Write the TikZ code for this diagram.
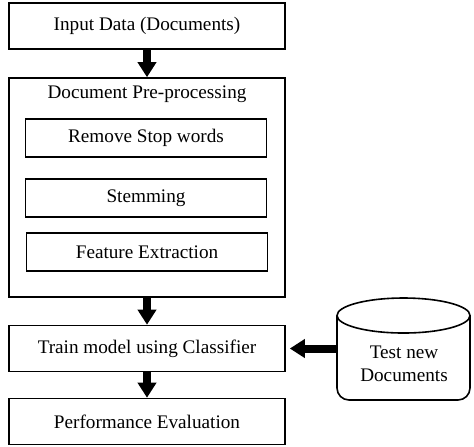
\documentclass[tikz,border=0pt]{standalone}
\usepackage{fontspec}
\setmainfont{Liberation Serif}
\usetikzlibrary{arrows.meta}

\begin{document}
\begin{tikzpicture}[x=0.5pt,y=-0.5pt,
  box/.style={draw,line width=0.8pt,minimum width=138pt,minimum height=23pt,inner sep=0pt},
  subbox/.style={draw,line width=0.8pt,minimum width=120.5pt,minimum height=19pt,inner sep=0pt},
  blk/.style={line width=4pt,-{Triangle[width=9pt,length=7.5pt]}},
  font=\fontsize{9.6}{11.5}\selectfont]
\useasboundingbox (0,0) rectangle (474,446);
\node[box] (input) at (147,26) {Input Data (Documents)};
\node[box,minimum height=109.5pt] (prep) at (147,187.5) {};
\node (preptitle) at (147,94) {Document Pre-processing};
\node[subbox] (stop) at (146,138) {Remove Stop words};
\node[subbox] (stem) at (146,198) {Stemming};
\node[subbox] (feat) at (147,252) {Feature Extraction};
\node[box] (train) at (147,348.5) {Train model using Classifier};
\node[box] (perf) at (147,421.5) {Performance Evaluation};
% test documents store
\draw[line width=0.8pt] (403.5,315.5) ellipse [x radius=66.5,y radius=17.5];
\draw[line width=0.8pt,rounded corners=6pt] (337,315.5) -- (337,400) -- (470,400) -- (470,315.5);
\node[align=center,inner sep=0pt] (test) at (404,364) {Test new\\Documents};
\coordinate (testw) at (337,348.5);
\draw[blk] (input) -- (prep);
\draw[blk] (prep) -- (train);
\draw[blk] (train) -- (perf);
\draw[blk,shorten >=2pt] (testw) -- (train);
\end{tikzpicture}
\end{document}
